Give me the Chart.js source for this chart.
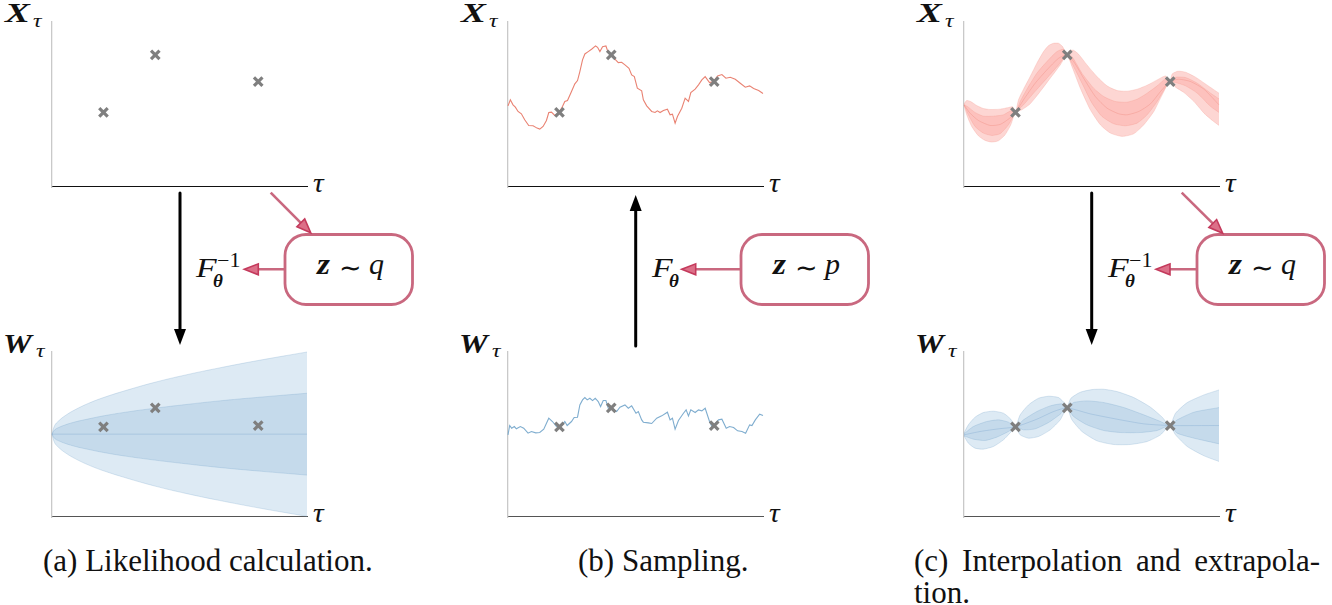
<!DOCTYPE html>
<html><head><meta charset="utf-8">
<script src="https://cdn.jsdelivr.net/npm/chart.js@4"></script>
<style>
html,body{margin:0;padding:0;background:#fff;width:1332px;height:605px;overflow:hidden}
canvas{position:absolute;display:block}
svg{position:absolute;left:0;top:0}
.t{position:absolute;white-space:pre;line-height:1;font-family:"Liberation Serif",serif;color:#111;transform-origin:left bottom}
.cap{position:absolute;font:31px/1 "Liberation Serif",serif;color:#111;white-space:nowrap}
</style></head><body>
<script>
const PAD = 6, PW = 255, PH = 165;
const COL_LEFT = [52, 508, 964];
const ROW_TOP = [22, 352];

// observations (shared tau; values per space)
const tauObs = [154, 309, 617];
const xObs = [224, 397, 317];
const wObs = [271, 328, 275];

// (a) base-space bands
const aBandT = [0,8,20,40,70,110,154,220,308,400,500,620,763];
const aOuterUpperV = [249,275,289,305,323,342,359,380,405,427,448,471,496];
const aOuterLowerV = [249,223,209,193,175,156,139,118,93,71,50,27,2];
const aInnerUpperV = [249,262,269,277,286,295,304,315,327,338,349,360,372];
const aInnerLowerV = [249,236,229,221,212,203,194,183,171,160,149,138,126];
const aMeanT = [0,763];
const aMeanV = [249,249];

// (b) sample paths
const bXT = [0,7,15,22,30,40,50,62,75,87,95,105,115,122,130,140,153,163,170,178,190,200,208,215,223,230,240,250,262,268,275,283,293,300,310,320,330,340,350,362,370,378,387,400,405,415,430,440,447,455,465,477,485,492,500,507,520,530,540,547,560,570,580,590,603,615,627,640,652,665,680,695,710,723,735,750,763];
const bXV = [244,262,247,240,227,220,202,185,184,177,174,182,200,224,225,215,224,242,257,260,287,310,320,347,382,400,407,414,424,420,407,422,424,404,397,384,374,375,367,357,337,332,297,289,262,244,227,224,229,224,230,234,217,219,192,212,237,267,257,284,294,307,322,332,314,317,334,338,327,330,324,312,300,304,296,290,281];
const bWT = [0,5,11,19,25,37,47,60,70,83,95,107,122,133,145,153,165,170,177,190,198,208,215,223,230,237,245,253,261,270,277,285,293,300,310,325,335,350,360,370,383,390,400,405,420,430,445,460,477,485,492,500,510,525,533,540,547,560,570,580,590,603,610,617,630,640,653,663,675,687,700,711,723,730,740,753,763];
const bWV = [247,275,267,272,265,272,267,252,257,253,254,264,297,287,272,271,280,287,275,287,299,300,337,352,359,352,357,350,357,347,332,350,350,327,327,317,330,337,327,334,312,317,292,285,283,281,297,304,315,292,297,264,290,312,322,304,322,314,322,319,327,287,272,277,292,294,267,272,269,259,257,252,277,275,292,309,305];

// (c) data-space bands
const cXOuterUpperT = [0,8,20,38,58,78,108,133,146,154,163,178,198,218,238,253,268,283,295,300,308,316,328,343,368,398,428,458,488,518,548,578,603,616,623,640,663,693,728,763];
const cXOuterUpperV = [250,260,257,245,236,233,234,239,241,224,262,294,332,372,407,425,432,432,422,412,397,410,411,399,367,332,304,290,288,294,306,322,334,317,340,348,345,330,306,282];
const cXOuterLowerT = [0,8,23,43,63,83,103,123,140,154,173,198,228,258,288,308,323,348,378,408,438,473,508,538,568,593,616,633,658,688,718,743,763];
const cXOuterLowerV = [247,217,182,154,140,135,139,157,187,224,232,250,287,327,367,397,362,297,232,187,162,152,160,187,227,277,317,300,284,257,222,200,185];
const cXInnerUpperT = [0,13,33,58,88,118,140,154,168,190,218,248,278,298,308,323,353,388,418,453,488,518,548,578,603,616,633,663,698,738,763];
const cXInnerUpperV = [248,240,224,213,213,217,229,224,257,297,342,377,407,414,397,392,342,297,272,257,255,264,282,304,325,317,330,329,312,282,265];
const cXInnerLowerT = [0,13,33,58,83,108,133,154,178,208,248,283,308,323,353,383,413,448,483,518,548,578,603,616,633,663,698,738,763];
const cXInnerLowerV = [246,217,182,162,155,160,187,224,247,282,327,367,397,372,312,252,212,190,184,192,217,257,300,317,314,304,282,242,224];
const cXMeanT = [0,18,43,78,108,133,154,178,213,248,283,308,328,358,393,428,463,488,523,558,588,616,643,678,718,763];
const cXMeanV = [247,222,200,185,188,204,224,262,312,352,387,397,377,327,272,237,220,217,227,250,287,317,324,317,294,247];

const cWOuterUpperT = [0,13,33,58,88,118,140,154,168,193,223,253,283,303,308,320,348,383,418,458,508,558,593,616,633,668,718,763];
const cWOuterUpperV = [252,277,300,314,318,312,294,271,307,337,357,363,359,340,328,357,375,383,384,377,359,330,300,275,312,344,367,382];
const cWOuterLowerT = [0,13,33,58,88,118,140,154,168,193,223,258,288,308,323,353,398,448,498,548,588,616,633,668,718,763];
const cWOuterLowerV = [244,222,207,204,212,232,255,271,247,237,242,262,292,328,292,257,229,218,218,227,247,275,247,212,184,167];
const cWInnerUpperT = [0,28,68,103,133,154,178,218,258,293,308,328,368,418,478,538,588,616,638,688,763];
const cWInnerUpperV = [250,272,287,292,285,271,292,317,334,340,328,344,349,344,329,307,287,275,292,315,329];
const cWInnerLowerT = [0,28,63,98,133,154,178,213,253,288,308,328,368,418,468,528,578,616,638,688,763];
const cWInnerLowerV = [244,234,230,240,257,271,262,265,284,309,328,302,277,260,254,254,260,275,252,237,220];
const cWMeanT = [0,48,103,154,218,268,308,378,458,538,616,763];
const cWMeanV = [247,257,265,271,294,317,328,310,294,280,275,275];

const zip = (t, v) => t.map((x, i) => ({x, y: v[i]}));
const RED = {outer:'rgba(250,120,110,0.30)', inner:'rgba(250,110,100,0.20)', edge:'rgba(240,130,120,0.22)', mean:'rgba(235,120,105,0.28)'};
const BLUE = {outer:'rgba(120,170,210,0.25)', inner:'rgba(100,155,200,0.20)', edge:'rgba(110,160,200,0.25)', mean:'rgba(90,145,195,0.25)'};

function obs(values){
  return {data: zip(tauObs, values), showLine:false, pointStyle:'crossRot', pointRadius:6,
          pointBorderWidth:3.2, pointBorderColor:'#7f7f7f', pointBackgroundColor:'#7f7f7f', order:0};
}
function band(up, lo, color, edge, t){
  return [
    {data: up, showLine:true, borderColor:edge, borderWidth:1, pointRadius:0, backgroundColor:color, fill:'+1', tension:t, order:3},
    {data: lo, showLine:true, borderColor:edge, borderWidth:1, pointRadius:0, fill:false, tension:t, order:3}
  ];
}
function meanLine(d, color, t){
  return {data:d, showLine:true, borderColor:color, borderWidth:1, pointRadius:0, fill:false, tension:t, order:2};
}
function sample(d, color){
  return {data:d, showLine:true, borderColor:color, borderWidth:1.1, pointRadius:0, fill:false, tension:0, order:1};
}

function panel(col, row, datasets, xAxisColor){
  const c = document.createElement('canvas');
  c.width = PW + 2*PAD; c.height = PH + 2*PAD;
  c.style.left = (COL_LEFT[col]-PAD)+'px';
  c.style.top = (ROW_TOP[row]-PAD)+'px';
  document.body.appendChild(c);
  new Chart(c, {
    type:'scatter',
    data:{datasets},
    options:{
      responsive:false, animation:false, clip:false,
      layout:{padding:PAD, autoPadding:false},
      plugins:{legend:{display:false}, tooltip:{enabled:false}, title:{display:false}},
      scales:{
        x:{type:'linear', min:0, max:763, ticks:{display:false}, grid:{display:false, drawTicks:false},
           border:{display:true, color:xAxisColor, width:1.1}, afterFit(s){s.height=0;}},
        y:{type:'linear', min:0, max:496, ticks:{display:false}, grid:{display:false, drawTicks:false},
           border:{display:true, color:'#c9c9c9', width:1.3}, afterFit(s){s.width=0;}}
      }
    }
  });
}

// (a)
panel(0,0,[obs(xObs)],'#111');
panel(0,1,[obs(wObs),
  meanLine(zip(aMeanT,aMeanV),BLUE.mean,0),
  ...band(zip(aBandT,aInnerUpperV),zip(aBandT,aInnerLowerV),BLUE.inner,BLUE.edge,0.4),
  ...band(zip(aBandT,aOuterUpperV),zip(aBandT,aOuterLowerV),BLUE.outer,BLUE.edge,0.4)],'#555');
// (b)
panel(1,0,[obs(xObs),sample(zip(bXT,bXV),'#e98272')],'#111');
panel(1,1,[obs(wObs),sample(zip(bWT,bWV),'#7fadcf')],'#555');
// (c)
panel(2,0,[obs(xObs),
  meanLine(zip(cXMeanT,cXMeanV),RED.mean,0.2),
  ...band(zip(cXInnerUpperT,cXInnerUpperV),zip(cXInnerLowerT,cXInnerLowerV),RED.inner,RED.edge,0.2),
  ...band(zip(cXOuterUpperT,cXOuterUpperV),zip(cXOuterLowerT,cXOuterLowerV),RED.outer,RED.edge,0.2)],'#111');
panel(2,1,[obs(wObs),
  meanLine(zip(cWMeanT,cWMeanV),BLUE.mean,0.2),
  ...band(zip(cWInnerUpperT,cWInnerUpperV),zip(cWInnerLowerT,cWInnerLowerV),BLUE.inner,BLUE.edge,0.2),
  ...band(zip(cWOuterUpperT,cWOuterUpperV),zip(cWOuterLowerT,cWOuterLowerV),BLUE.outer,BLUE.edge,0.2)],'#555');

// text helper: x = left edge, b = baseline
function txt(s, x, b, size, opt={}){
  const e = document.createElement('span');
  e.className='t'; e.textContent=s;
  e.style.left=x+'px';
  e.style.top=(b-0.838*size)+'px';
  e.style.fontSize=size+'px';
  e.style.fontStyle=opt.upright?'normal':'italic';
  e.style.fontWeight=opt.bold?'bold':'normal';
  if(opt.sx){e.style.transformOrigin='left center';e.style.transform='scaleX('+opt.sx+')';}
  document.body.appendChild(e);
}
const TAU_FONT = 27;
[0,456,912].forEach(dx=>{
  txt('X',5+dx,23,27,{bold:true,sx:1.38});
  txt('τ',33+dx,27,19,{sx:1.25});
  txt('W',3+dx,354,27,{bold:true,sx:1.2});
  txt('τ',36+dx,357,19,{sx:1.25});
  txt('τ',313+dx,193,TAU_FONT,{sx:1.1});
  txt('τ',313+dx,523,TAU_FONT,{sx:1.1});
});
function boxText(dx, dist){
  txt('z',317+dx,274,29,{bold:true,sx:1.15});
  txt('∼',339+dx,278,27,{upright:true});
  txt(dist,369+dx,274,30);
}
boxText(0,'q'); boxText(456,'p'); boxText(912,'q');
[0,912].forEach(dx=>{
  txt('F',196+dx,278,27,{sx:1.25});
  txt('−1',217+dx,267,20,{upright:true,sx:1.1});
  txt('θ',213+dx,287,19,{bold:true});
});
txt('F',652,278,27,{sx:1.25});
txt('θ',669,287,19,{bold:true});

// captions
function cap(s,x,b,w){
  const e=document.createElement('div');
  e.className='cap'; e.textContent=s;
  e.style.left=x+'px'; e.style.top=(b-0.838*31)+'px';
  if(w){e.style.width=w+'px';e.style.whiteSpace='normal';e.style.textAlign='justify';e.style.textAlignLast='justify';}
  document.body.appendChild(e);
}
cap('(a) Likelihood calculation.',43,571);
cap('(b) Sampling.',578,571);
cap('(c) Interpolation and extrapola-',914,571,406);
cap('tion.',914,603);

// flow diagram
const NS='http://www.w3.org/2000/svg';
const svg=document.createElementNS(NS,'svg');
svg.setAttribute('width',1332);svg.setAttribute('height',605);
function el(n,a){const e=document.createElementNS(NS,n);for(const k in a)e.setAttribute(k,a[k]);svg.appendChild(e);}
const PINK='#c9687f', CRIM='#c43a5c';
function redArrow(x1,y1,x2,y2){
  const L=Math.hypot(x2-x1,y2-y1),ux=(x2-x1)/L,uy=(y2-y1)/L,h=14,w=5.5;
  el('line',{x1,y1,x2:x2-ux*8,y2:y2-uy*8,stroke:PINK,'stroke-width':2.6});
  const bx=x2-ux*h,by=y2-uy*h;
  el('polygon',{points:`${x2},${y2} ${bx-uy*w},${by+ux*w} ${bx+uy*w},${by-ux*w}`,fill:'#dc6f88',stroke:CRIM,'stroke-width':1.6});
}
function blackArrow(x,y1,y2){
  const d=y2>y1?1:-1;
  el('line',{x1:x,y1,x2:x,y2:y2-d*14,stroke:'#000','stroke-width':3,'stroke-linecap':'round'});
  el('polygon',{points:`${x},${y2} ${x-6},${y2-d*16} ${x+6},${y2-d*16}`,fill:'#000'});
}
[285,741,1197].forEach(x=>el('rect',{x,y:234.5,width:127.5,height:70,rx:21,ry:21,fill:'none',stroke:PINK,'stroke-width':2.8}));
blackArrow(180,193,345);
blackArrow(635.7,346,195);
blackArrow(1091.7,193,345);
redArrow(270.7,192.7,310.7,232.8);
redArrow(1181.7,192.7,1222.7,233.3);
redArrow(285,269.3,244.3,269.3);
redArrow(741,269.3,681.7,269.3);
redArrow(1197,269.3,1156,269.3);
document.body.appendChild(svg);
</script>
</body></html>
